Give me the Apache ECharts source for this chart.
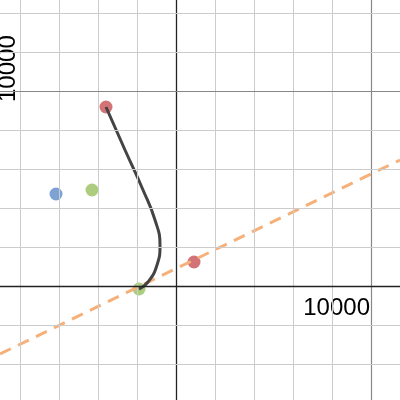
<!DOCTYPE html><html><head><meta charset="utf-8">
<script src="https://cdn.jsdelivr.net/npm/echarts@6/dist/echarts.min.js"></script>
<style>html,body{margin:0;padding:0;background:#fff}#c{width:400px;height:400px}</style></head><body><div id="c"></div>
<script>
const xRange = [-9026, 11487];
const yRange = [-5846, 14667];
const gridStep = 2000;
const blueA = [[-6154, 4718]];
const greenPts = [[-4308, 4923], [-1897, -154]];
const redPts = [[-3590, 9179], [923, 1231]];
const curve = [[-3590,9179],[-2615,6974],[-1692,4923],[-1077,3385],[-821,2103],[-974,1077],[-1436,205],[-1897,-154]];
const dashLine = [[-9026,-3487],[11487,6462]];
const tickLabel = "10000";

const vLines=[],hLines=[];
for(let v=-8000; v<=xRange[1]; v+=gridStep) vLines.push(v);
for(let v=-4000; v<=yRange[1]; v+=gridStep) hLines.push(v);
function ls(v){return v===0?{color:'#222',width:1.3,type:'solid'}:(v%10000===0?{color:'#888',width:1.2,type:'solid'}:{color:'#ccc',width:1,type:'solid'});}
const gridData=[...vLines.map(v=>({xAxis:v,lineStyle:ls(v),label:{show:false}})),
 ...hLines.map(v=>({yAxis:v,lineStyle:ls(v),label:{show:false}}))];
const chart=echarts.init(document.getElementById('c'));
chart.setOption({
 animation:false,
 grid:{left:0,right:0,top:0,bottom:0},
 xAxis:{type:'value',min:xRange[0],max:xRange[1],show:false},
 yAxis:{type:'value',min:yRange[0],max:yRange[1],show:false},
 graphic:[
  {type:'text',right:30,top:296,style:{text:tickLabel,fontSize:24,fontFamily:'Liberation Sans',fill:'#000'}},
  {type:'text',x:-4,y:102,rotation:Math.PI/2,style:{text:tickLabel,fontSize:24,fontFamily:'Liberation Sans',fill:'#000'}}
 ],
 series:[
  {type:'line',data:[],markLine:{silent:true,symbol:'none',data:gridData}},
  {type:'line',data:dashLine,symbol:'none',lineStyle:{color:'#f6b079',width:3,type:[12,8]}},
  {type:'line',data:curve,smooth:true,symbol:'none',lineStyle:{color:'#444',width:3}},
  {type:'scatter',data:blueA,symbolSize:13,itemStyle:{color:'#5b8cc8'}},
  {type:'scatter',data:greenPts,symbolSize:13,itemStyle:{color:'#99c05e'}},
  {type:'scatter',data:redPts,symbolSize:13,itemStyle:{color:'#c85052'}}
 ]
});
</script></body></html>
